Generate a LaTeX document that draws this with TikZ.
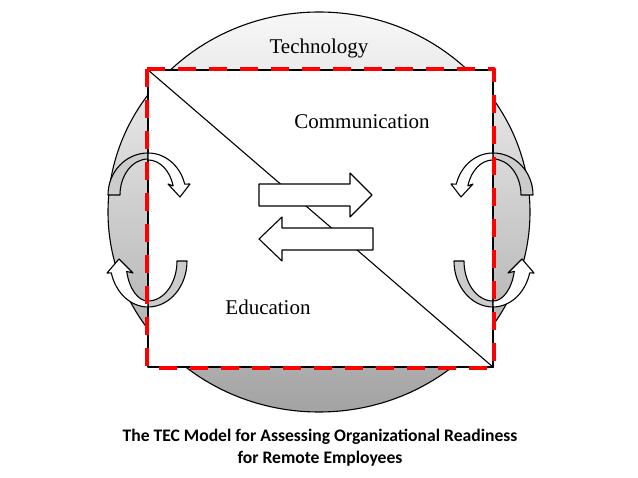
\documentclass[tikz,border=0pt]{standalone}
\usepackage{fontspec}
\setmainfont{Liberation Serif}
\newfontfamily\capfont{Carlito}
\usetikzlibrary{shapes.geometric}

\begin{document}
\begin{tikzpicture}[x=1pt,y=-1pt,line width=1.1pt,line join=round,
   globe/.style={ellipse,draw,inner sep=0pt,minimum width=422pt,minimum height=400pt,
     top color=gray!6,bottom color=gray!72},
   plane/.style={rectangle,draw,fill=white,inner sep=0pt,minimum width=345pt,minimum height=297pt},
   reddash/.style={draw=red,line width=4pt,dash pattern=on 18pt off 13pt},
   backband/.style={draw,fill=gray!40},
   frontband/.style={draw,fill=white},
   flat/.style={draw,fill=white},
   label/.style={font=\fontsize{21}{25}\selectfont,inner sep=0pt}]
\useasboundingbox (0,0) rectangle (638,478);
\node[globe] (globe) at (319,212) {};
\node[plane] (plane) at (320.5,218.5) {};
\draw (plane.north west) -- (plane.south east);
\node[label] (tech) at (319,48) {Technology};
\node[label] (comm) at (362,122) {Communication};
\node[label] (edu) at (268,307) {Education};
\foreach \s in {1,-1}{
  \begin{scope}[shift={(320.5-\s*172.5,0)},xscale=\s]
  % upper turn
  \path[backband] (-40,195) arc[start angle=180,end angle=270,x radius=40,y radius=42]
     -- (0,159) arc[start angle=270,end angle=180,x radius=28,y radius=36] -- cycle;
  \path[frontband] (0,153) arc[start angle=270,end angle=345,x radius=38,y radius=42]
     -- (42,184) -- (32,197) -- (20,184)
     -- (25.1,185.9) arc[start angle=345,end angle=270,x radius=26,y radius=35] -- cycle;
  % lower turn
  \path[backband] (39,261) arc[start angle=0,end angle=90,x radius=39,y radius=46]
     -- (0,301) arc[start angle=90,end angle=0,x radius=29,y radius=40] -- cycle;
  \path[frontband] (0,307) arc[start angle=90,end angle=165,x radius=38,y radius=46]
     -- (-41,273) -- (-29,259) -- (-15,273)
     -- (-21.3,271.4) arc[start angle=165,end angle=90,x radius=22,y radius=40] -- cycle;
  \end{scope}
}
\path[flat] (259,184) -- (350,184) -- (350,173) -- (372,195) -- (350,217)
   -- (350,206) -- (259,206) -- cycle;
\path[flat] (373,228) -- (282,228) -- (282,217) -- (259,239) -- (282,261)
   -- (282,250) -- (373,250) -- cycle;
\draw[reddash] (plane.north west) rectangle (plane.south east);
\node[font=\capfont\bfseries\fontsize{17.6}{22}\selectfont,align=center] (caption)
   at (320,448) {The TEC Model for Assessing Organizational Readiness\\for Remote Employees};
\end{tikzpicture}
\end{document}
